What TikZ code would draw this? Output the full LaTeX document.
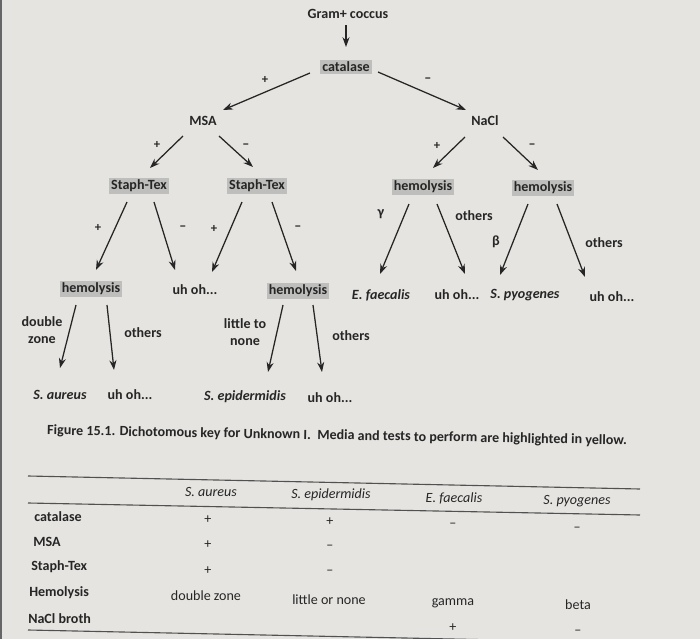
\documentclass[tikz,border=0pt]{standalone}
\usepackage{fontspec}
\setmainfont{Carlito}
\usetikzlibrary{arrows.meta}
\definecolor{paper}{RGB}{229,228,225}
\definecolor{hilite}{RGB}{190,190,188}
\definecolor{ink}{RGB}{38,38,38}
\tikzset{
  test/.style={fill=hilite, inner xsep=1.5pt, inner ysep=1.5pt, font=\bfseries},
  txt/.style={inner sep=1pt, font=\bfseries},
  sp/.style={inner sep=1pt, font=\bfseries\itshape},
  lab/.style={inner sep=0pt, font=\bfseries, align=center},
  arr/.style={-{Stealth[length=7pt,width=5pt]}, line width=0.9pt, draw=ink},
  rule/.style={line width=0.8pt, draw=ink!80},
  cell/.style={inner sep=0pt, font=\fontsize{10}{12}\selectfont},
  rowhead/.style={cell, anchor=west, font=\fontsize{10}{12}\selectfont\bfseries},
}
\begin{document}
\begin{tikzpicture}[x=0.025cm, y=-0.025cm, font=\fontsize{11}{13}\selectfont, text=ink]
\useasboundingbox (0,0) rectangle (700,639);
\fill[paper] (0,0) rectangle (700,639);
\fill[black!60] (0,0) rectangle (2,639);
\clip (0,0) rectangle (700,639);

% the key
\node[txt]  (gram) at (348,14)  {Gram+ coccus};
\node[test] (cat)  at (346,67)  {catalase};
\node[txt]  (msa)  at (203,121) {MSA};
\node[txt]  (nacl) at (485,121) {NaCl};
\node[test] (stl)  at (139,186) {Staph-Tex};
\node[test] (str)  at (257,186) {Staph-Tex};
\node[test] (hC)   at (423,187) {hemolysis};
\node[test] (hD)   at (543,188) {hemolysis};
\node[test] (hA)   at (91,289)  {hemolysis};
\node[txt]  (uh1)  at (195,290) {uh oh...};
\node[test] (hB)   at (298,291) {hemolysis};
\node[sp]   (fae)  at (381,295) {E. faecalis};
\node[txt]  (uh4)  at (457,295) {uh oh...};
\node[sp]   (pyo)  at (525,295) {S. pyogenes};
\node[txt]  (uh5)  at (612,297) {uh oh...};
\node[sp]   (aur)  at (60,395)  {S. aureus};
\node[txt]  (uh2)  at (130,395) {uh oh...};
\node[sp]   (epi)  at (245,397) {S. epidermidis};
\node[txt]  (uh3)  at (330,398) {uh oh...};

\draw[arr] ([shift={(-2,11)}]gram.center) -- ([shift={(0,-20)}]cat.center);
\draw[arr] ([shift={(-36,6)}]cat.center) -- ([shift={(20,-11)}]msa.center);
\draw[arr] ([shift={(32,5)}]cat.center) -- ([shift={(-19,-11)}]nacl.center);
\draw[arr] ([shift={(-20,15)}]msa.center) -- ([shift={(11,-18)}]stl.center);
\draw[arr] ([shift={(16,15)}]msa.center) -- ([shift={(-4,-19)}]str.center);
\draw[arr] ([shift={(-20,16)}]nacl.center) -- ([shift={(10,-19)}]hC.center);
\draw[arr] ([shift={(18,16)}]nacl.center) -- ([shift={(-5,-18)}]hD.center);
\draw[arr] ([shift={(-12,16)}]stl.center) -- ([shift={(5,-19)}]hA.center);
\draw[arr] ([shift={(15,16)}]stl.center) -- ([shift={(-20,-20)}]uh1.center);
\draw[arr] ([shift={(-15,16)}]str.center) -- ([shift={(17,-18)}]uh1.center);
\draw[arr] ([shift={(15,16)}]str.center) -- ([shift={(-2,-20)}]hB.center);
\draw[arr] ([shift={(-14,17)}]hC.center) -- ([shift={(-1,-21)}]fae.center);
\draw[arr] ([shift={(14,17)}]hC.center) -- ([shift={(8,-21)}]uh4.center);
\draw[arr] ([shift={(-15,16)}]hD.center) -- ([shift={(-25,-20)}]pyo.center);
\draw[arr] ([shift={(14,16)}]hD.center) -- ([shift={(-27,-20)}]uh5.center);
\draw[arr] ([shift={(-15,16)}]hA.center) -- ([shift={(0,-27)}]aur.center);
\draw[arr] ([shift={(16,16)}]hA.center) -- ([shift={(-16,-25)}]uh2.center);
\draw[arr] ([shift={(-15,14)}]hB.center) -- ([shift={(23,-25)}]epi.center);
\draw[arr] ([shift={(15,14)}]hB.center) -- ([shift={(-8,-26)}]uh3.center);

% branch labels
\node[lab] (p1) at (265,80)  {\small +};
\node[lab] (m1) at (428,80)  {--};
\node[lab] (p2) at (157,145) {\small +};
\node[lab] (m2) at (246,146) {--};
\node[lab] (p3) at (437,146) {\small +};
\node[lab] (m3) at (532,146) {--};
\node[lab] (p4) at (98,228)  {\small +};
\node[lab] (m4) at (183,228) {--};
\node[lab] (p5) at (214,229) {\small +};
\node[lab] (m5) at (298,228) {--};
\node[lab] (gam) at (381,214) {γ};
\node[lab] (o1) at (474,216) {others};
\node[lab] (bet) at (496,242) {β};
\node[lab] (o2) at (604,243) {others};
\node[lab] (dz) at (42,330)  {double\\zone};
\node[lab] (o3) at (143,333) {others};
\node[lab] (ln) at (245,332) {little to\\none};
\node[lab] (o4) at (351,336) {others};

\node[txt, rotate=-1] (cap) at (337,436)
  {Figure 15.1. Dichotomous key for Unknown I.\ \ Media and tests to perform are highlighted in yellow.};

% the table
\draw[rule] (28,476) -- (640,489);
\draw[rule] (28,503) -- (640,515);
\draw[rule] (28,630) -- (640,643);
\node[cell, font=\fontsize{10}{12}\selectfont\itshape] (c1) at (211,492) {S. aureus};
\node[cell, font=\fontsize{10}{12}\selectfont\itshape] (c2) at (331,495) {S. epidermidis};
\node[cell, font=\fontsize{10}{12}\selectfont\itshape] (c3) at (454,498) {E. faecalis};
\node[cell, font=\fontsize{10}{12}\selectfont\itshape] (c4) at (577,501) {S. pyogenes};
\node[rowhead] (r1) at (34,517) {catalase};
\node[rowhead] (r2) at (33,542) {MSA};
\node[rowhead] (r3) at (31,567) {Staph-Tex};
\node[rowhead] (r4) at (29,593) {Hemolysis};
\node[rowhead] (r5) at (28,619) {NaCl broth};
\node[cell] at (208,520) {+};
\node[cell] at (330,522) {+};
\node[cell] at (453,525) {--};
\node[cell] at (577,529) {--};
\node[cell] at (208,545) {+};
\node[cell] at (330,547) {--};
\node[cell] at (208,571) {+};
\node[cell] at (330,572) {--};
\node[cell] at (206,596) {double zone};
\node[cell] at (329,600) {little or none};
\node[cell] at (453,603) {gamma};
\node[cell] at (578,605) {beta};
\node[cell] at (453,628) {+};
\node[cell] at (578,632) {--};
\end{tikzpicture}
\end{document}
